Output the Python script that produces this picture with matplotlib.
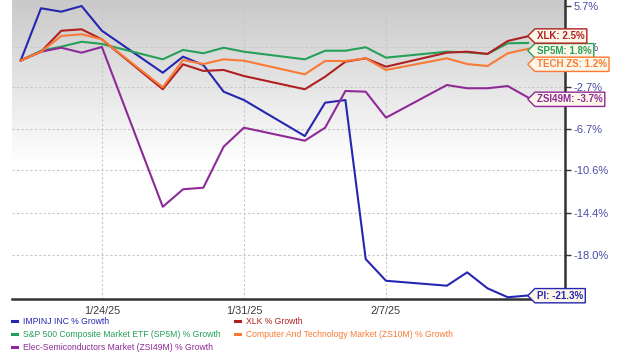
import matplotlib
matplotlib.use('Agg')
import matplotlib.pyplot as plt
import matplotlib.dates as mdates
from matplotlib.path import Path
from matplotlib.transforms import blended_transform_factory, offset_copy
import numpy as np
import pandas as pd

plt.rcParams['font.family'] = ['Liberation Sans', 'DejaVu Sans']

dates = pd.to_datetime(['2025-01-20', '2025-01-21', '2025-01-22', '2025-01-23', '2025-01-24',
                        '2025-01-27', '2025-01-28', '2025-01-29', '2025-01-30', '2025-01-31',
                        '2025-02-03', '2025-02-04', '2025-02-05', '2025-02-06', '2025-02-07',
                        '2025-02-10', '2025-02-11', '2025-02-12', '2025-02-13', '2025-02-14'])

impinj = [0, 5.47, 5.10, 5.71, 3.08, -1.24, 0.39, -0.46, -3.13, -3.95,
          -7.41, -4.21, -3.95, -18.32, -20.11, -20.51, -19.42, -20.72, -21.44, -21.3]
xlk = [0, 0.90, 3.08, 3.23, 2.18, -2.89, -0.39, -1.06, -0.96, -1.57,
       -2.89, -1.64, -0.12, 0.22, -0.63, 0.80, 0.90, 0.67, 2.01, 2.5]
sp5m = [0, 1.0, 1.42, 1.93, 1.70, 0.12, 1.08, 0.74, 1.31, 0.90,
        0.12, 1.0, 1.0, 1.36, 0.29, 0.90, 0.84, 0.67, 1.77, 1.8]
tech = [0, 0.9, 2.53, 2.71, 2.18, -2.69, 0.05, -0.36, 0.12, -0.02,
        -1.40, -0.05, -0.05, 0.22, -0.96, 0.22, -0.36, -0.56, 0.74, 1.2]
zsi49m = [0, 0.9, 1.31, 0.80, 1.39, -13.85, -12.30, -12.16, -8.41, -6.62,
          -7.85, -6.62, -3.06, -3.13, -5.66, -2.47, -2.79, -2.79, -2.57, -3.7]

yticks = [5.7, 1.4, -2.7, -6.7, -10.6, -14.4, -18.0]
xtick_dates = pd.to_datetime(['2025-01-24', '2025-01-31', '2025-02-07'])

# name, values, colour, short tag, label y (px from top)
series = [
    ('IMPINJ INC % Growth', impinj, '#2626b0', 'PI', 295.7),
    ('S&P 500 Composite Market ETF (SP5M) % Growth', sp5m, '#25a058', 'SP5M', 50.7),
    ('Elec-Semiconductors Market (ZSI49M) % Growth', zsi49m, '#8e2a98', 'ZSI49M', 99.3),
    ('XLK % Growth', xlk, '#b02020', 'XLK', 36.0),
    ('Computer And Technology Market (ZS10M) % Growth', tech, '#f97a34', 'TECH ZS', 64.3),
]
draw_order = [2, 1, 3, 4, 0]


def flag(x0, y0, width, height, mutation_size):
    pad = 0.22 * mutation_size
    x0 -= pad
    y0 -= pad
    w = width + 2 * pad
    h = height + 2 * pad
    tip = x0 - h / 2
    verts = [(tip, y0 + h / 2), (x0, y0), (x0 + w, y0), (x0 + w, y0 + h),
             (x0, y0 + h), (tip, y0 + h / 2)]
    return Path(verts, closed=True)


fig = plt.figure(figsize=(6.2, 3.57), dpi=100)
ax = fig.add_axes([12 / 620, 1 - 299 / 357, (565 - 12) / 620, 299 / 357])

ax.set_yscale('function', functions=(lambda v: np.log1p(np.asarray(v) / 100.0),
                                     lambda v: np.expm1(np.asarray(v)) * 100.0))

# grey-to-white background
t = np.linspace(0, 1, 300)
g = 0.79 + 0.21 * np.clip(t / 0.55, 0, 1)
col2 = np.repeat(g[:, None], 2, axis=1)
bg = np.stack([col2, col2, col2], axis=-1)
ax.imshow(bg, extent=[0, 1, 0, 1], transform=ax.transAxes, aspect='auto', zorder=0)

lines = {}
for i in draw_order:
    name, vals, col, tag, ly = series[i]
    ln, = ax.plot(dates, vals, color=col, lw=1.5, label=name, zorder=3 + i * 0.01)
    lines[i] = ln

ax.set_xlim(dates[0] - pd.Timedelta(hours=10.3), dates[-1] + pd.Timedelta(hours=43.7))
ax.set_ylim(-21.58, 6.36)

ax.set_yticks(yticks)
ax.set_yticklabels(['%.1f%%' % v for v in yticks])
ax.yaxis.tick_right()
ax.tick_params(axis='y', colors='#333333', labelcolor='#4a4aa8', labelsize=8, length=4,
               width=1, pad=2)
ax.set_xticks(xtick_dates)
ax.xaxis.set_major_formatter(mdates.DateFormatter('%-m/%-d/%y'))
ax.tick_params(axis='x', length=0, labelcolor='#3c3c3c', labelsize=7.8, pad=5)
ax.grid(True, color='#c8c8c8', lw=0.8, linestyle=(0, (2, 2)))
ax.set_axisbelow(True)

for s in ['left', 'top']:
    ax.spines[s].set_visible(False)
for s in ['right', 'bottom']:
    ax.spines[s].set_color('#333333')
    ax.spines[s].set_linewidth(1.8)

trans = offset_copy(blended_transform_factory(ax.transData, fig.transFigure), fig=fig,
                    x=9, y=0, units='dots')
for name, vals, col, tag, ly in series:
    ax.text(dates[-1], 1 - ly / 357, '%s: %.1f%%' % (tag, vals[-1]), transform=trans,
            ha='left', va='center', fontsize=7, fontweight='bold', color=col, zorder=6,
            clip_on=False,
            bbox=dict(boxstyle=flag, facecolor='#fdf7ea', edgecolor=col, lw=1))

handles = [lines[i] for i in range(5)]
leg = fig.legend(handles=handles, labels=[s[0] for s in series], ncol=2,
                 loc='upper left', bbox_to_anchor=(12 / 620, 1 - 317.3 / 357), frameon=False,
                 fontsize=6.2, handlelength=0.55, handletextpad=0.7, columnspacing=1.7,
                 labelspacing=0.43, borderaxespad=0, borderpad=0, labelcolor='linecolor')
for h in leg.legend_handles:
    h.set_linewidth(2.2)

fig.savefig('out.png', dpi=100)
